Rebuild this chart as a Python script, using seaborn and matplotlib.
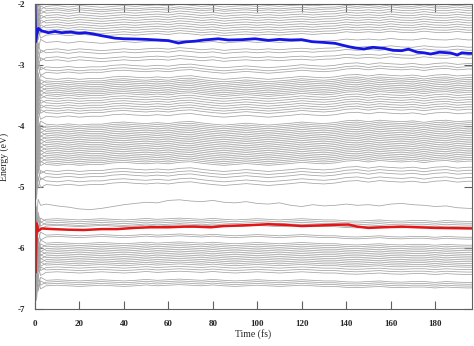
import matplotlib
matplotlib.use("Agg")
import matplotlib.pyplot as plt
import pandas as pd
import seaborn as sns

# --- data -------------------------------------------------------------
# time samples (fs): short transient after the kick, then every 5 fs
t_kick = [0.0, 0.7, 1.4, 2.5]
kick = [0.34, -0.24, 0.12, -0.05]
t_steps = list(range(5, 201, 5))

# orbital energies (eV) shortly after the kick
upper_levels = [-2.04, -2.08, -2.11, -2.15, -2.19, -2.23, -2.27, -2.31, -2.35,
                -2.39, -2.43, -2.47, -2.51, -2.63, -2.75, -2.80, -2.88, -2.93]
middle_levels = [-3.03, -3.08, -3.12, -3.22, -3.26, -3.29, -3.32, -3.35, -3.38,
                 -3.41, -3.44, -3.47, -3.50, -3.54, -3.58, -3.62, -3.66, -3.70,
                 -3.74, -3.78, -3.84, -3.97, -4.00, -4.03, -4.06, -4.09, -4.12,
                 -4.15, -4.18, -4.21, -4.24, -4.27, -4.30, -4.33, -4.36, -4.39,
                 -4.42, -4.45, -4.48, -4.51, -4.54, -4.57, -4.60, -4.63, -4.73,
                 -4.78, -4.83, -4.90, -4.96]
lower_levels = [-5.53, -5.56, -5.59, -5.62, -5.64, -5.79, -5.82, -5.92, -5.95,
                -5.98, -6.01, -6.04, -6.07, -6.10, -6.13, -6.16, -6.19, -6.22,
                -6.25, -6.28, -6.32, -6.36, -6.40, -6.53, -6.56, -6.59, -6.62]

# collective shift (eV) of each manifold at t_steps
upper_drift = [0.00, 0.015, -0.01, 0.015, 0.00, -0.015, 0.00, 0.015, 0.00, 0.015,
               0.025, 0.01, 0.035, 0.02, 0.00, 0.015, -0.01, 0.005, 0.015, 0.00,
               0.015, 0.00, 0.015, 0.025, 0.01, 0.025, 0.03, 0.055, 0.04, 0.055,
               0.04, 0.065, 0.045, 0.04, 0.065, 0.045, 0.04, 0.06, 0.04, 0.05]
middle_drift = [0.00, -0.015, 0.005, -0.015, 0.00, 0.00, 0.025, 0.035, 0.02, 0.01,
                0.025, 0.01, 0.035, 0.045, 0.02, 0.00, -0.015, 0.00, 0.015, 0.00,
                -0.015, 0.00, 0.015, 0.035, 0.02, 0.01, 0.025, 0.055, 0.065, 0.04,
                0.065, 0.05, 0.04, 0.055, 0.03, 0.055, 0.065, 0.04, 0.055, 0.05]
lower_drift = [0.00, 0.01, 0.00, -0.01, 0.00, 0.01, 0.00, -0.01, 0.00, 0.015,
               0.00, 0.01, 0.02, 0.01, 0.00, 0.015, 0.00, -0.01, 0.00, 0.01,
               0.00, -0.01, 0.00, 0.01, 0.00, -0.01, -0.01, -0.025, -0.03, -0.02,
               -0.01, -0.025, -0.03, -0.02, -0.02, -0.035, -0.02, -0.03, -0.035, -0.03]

# isolated level near -5.3 eV
mid_gap_t = [0.0, 0.7, 1.4, 2.5] + t_steps
mid_gap_E = [-5.02, -5.55, -5.20, -5.30,
             -5.28, -5.31, -5.33, -5.36, -5.37, -5.35, -5.32, -5.29, -5.27, -5.25,
             -5.26, -5.22, -5.21, -5.23, -5.24, -5.22, -5.25, -5.26, -5.24, -5.27,
             -5.28, -5.26, -5.30, -5.32, -5.29, -5.31, -5.30, -5.28, -5.30, -5.29,
             -5.31, -5.28, -5.27, -5.29, -5.30, -5.32, -5.31, -5.34, -5.35, -5.35]

# LUMO (blue)
lumo_t = [0, 0.3, 0.8, 1.5, 3, 6, 9, 12, 16, 20, 22.5, 26, 30, 33, 36, 40, 45,
          50, 55, 60, 64.5, 68, 72, 76, 82.5, 87, 93, 99, 105, 110, 115, 120,
          124.5, 130, 135, 141, 144, 148, 152, 157, 161, 165, 168, 172, 175,
          178, 182, 187, 190, 192, 195, 198]
lumo_E = [-2.00, -2.62, -2.50, -2.40, -2.44, -2.47, -2.45, -2.47, -2.46, -2.48,
          -2.47, -2.49, -2.52, -2.54, -2.56, -2.57, -2.574, -2.58, -2.59, -2.60,
          -2.64, -2.62, -2.61, -2.59, -2.57, -2.59, -2.585, -2.57, -2.596, -2.58,
          -2.59, -2.585, -2.617, -2.63, -2.645, -2.699, -2.72, -2.738, -2.71,
          -2.727, -2.76, -2.765, -2.74, -2.79, -2.80, -2.82, -2.79, -2.803,
          -2.836, -2.80, -2.81, -2.809]

# HOMO (red)
homo_t = [0, 0.3, 0.8, 1.5, 3, 8, 15, 22, 30, 37, 45, 52, 60, 67, 72, 79, 85,
          93, 100, 105, 112, 120, 128, 135, 141, 145, 150, 157, 165, 172, 180,
          188, 198]
homo_E = [-5.55, -6.40, -5.60, -5.72, -5.68, -5.69, -5.70, -5.705, -5.69, -5.69,
          -5.67, -5.66, -5.66, -5.65, -5.65, -5.66, -5.64, -5.63, -5.62, -5.61,
          -5.62, -5.64, -5.63, -5.62, -5.615, -5.65, -5.67, -5.66, -5.65, -5.66,
          -5.67, -5.675, -5.68]

x_ticks = [0, 20, 40, 60, 80, 100, 120, 140, 160, 180]
y_ticks = [-7, -6, -5, -4, -3, -2]

# --- long-form table of the gray orbital levels ------------------------
rows = []
orb = 0
for levels, drift in ((upper_levels, upper_drift),
                      (middle_levels, middle_drift),
                      (lower_levels, lower_drift)):
    for i, lev in enumerate(levels):
        sign = 1 if i % 2 == 0 else -1
        for tk, k in zip(t_kick, kick):
            rows.append((orb, tk, lev + sign * k))
        for ts, d in zip(t_steps, drift):
            rows.append((orb, ts, lev + d))
        orb += 1
for ts, e in zip(mid_gap_t, mid_gap_E):
    rows.append((orb, ts, e))
levels_df = pd.DataFrame(rows, columns=["orbital", "t", "E"])

# --- figure -----------------------------------------------------------
sns.set_style("ticks")
plt.rcParams["font.family"] = ["Liberation Serif", "DejaVu Serif"]
plt.rcParams["axes.unicode_minus"] = False

fig = plt.figure(figsize=(4.74, 3.46), dpi=100)
ax = fig.add_axes([35 / 474, 1 - 309 / 346, (472 - 35) / 474, (309 - 4) / 346])

sns.lineplot(data=levels_df, x="t", y="E", units="orbital", estimator=None,
             color="#a3a3a3", lw=0.55, ax=ax, legend=False)
sns.lineplot(x=lumo_t, y=lumo_E, estimator=None, color="#1515e6", lw=2.0, ax=ax)
sns.lineplot(x=homo_t, y=homo_E, estimator=None, color="#e61515", lw=1.8, ax=ax)

ax.set_xlim(0, 196.6)
ax.set_ylim(-7, -2)
ax.set_xticks(x_ticks)
ax.set_yticks(y_ticks)
ax.set_xticklabels([str(v) for v in x_ticks])
ax.set_yticklabels([str(v) for v in y_ticks])
ax.tick_params(direction="in", length=6, width=0.8, color="#606060",
               top=True, right=True, labelsize=6.5)
ax.tick_params(axis="x", pad=8)
ax.tick_params(axis="y", pad=7)
for lab in ax.get_xticklabels() + ax.get_yticklabels():
    lab.set_fontweight("bold")
for sp in ax.spines.values():
    sp.set_color("#606060")
    sp.set_linewidth(0.8)

ax.set_xlabel("Time (fs)", fontsize=7, labelpad=1)
ax.set_ylabel("Energy (eV)", fontsize=7, labelpad=6)

fig.savefig("out.png", dpi=100)
